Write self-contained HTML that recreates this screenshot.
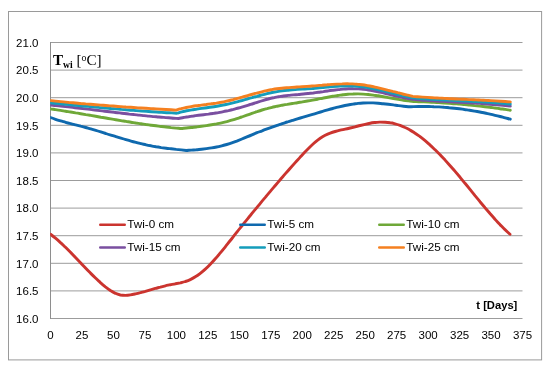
<!DOCTYPE html>
<html><head><meta charset="utf-8"><title>Twi chart</title>
<style>html,body{margin:0;padding:0;background:#fff}svg{display:block}text{font-family:"Liberation Sans",sans-serif;fill:#000}.s{font-family:"Liberation Serif",serif}</style></head><body>
<svg width="550" height="370" viewBox="0 0 550 370">
<rect x="0" y="0" width="550" height="370" fill="#fff"/>
<rect x="8.5" y="11.5" width="533.1" height="348.4" fill="#fff" stroke="#9a9a9a" stroke-width="1"/>
<defs><clipPath id="cp"><rect x="50.2" y="30" width="480" height="300"/></clipPath></defs>
<path d="M50.5 42.5H522.5M50.5 70.1H522.5M50.5 97.7H522.5M50.5 125.3H522.5M50.5 152.9H522.5M50.5 180.5H522.5M50.5 208.1H522.5M50.5 235.7H522.5M50.5 263.3H522.5M50.5 290.9H522.5M50.5 318.5H522.5" stroke="#9c9c9c" stroke-width="1" fill="none"/>
<path d="M50.5 42.0V319.0" stroke="#8e8e8e" stroke-width="1" fill="none"/>
<path clip-path="url(#cp)" d="M50.5 234.2C52.2 235.5 53.8 236.8 55.5 238.2C57.2 239.6 58.8 241.0 60.5 242.6C62.2 244.1 63.8 245.7 65.5 247.3C67.1 248.9 68.8 250.6 70.5 252.3C72.1 254.0 73.8 255.8 75.5 257.5C77.1 259.2 78.8 261.0 80.5 262.7C82.1 264.5 83.8 266.2 85.5 268.0C87.1 269.7 88.8 271.4 90.5 273.1C92.1 274.7 93.8 276.4 95.5 278.0C97.1 279.6 98.8 281.1 100.4 282.6C102.1 284.1 103.8 285.5 105.4 286.8C107.1 288.1 108.8 289.4 110.4 290.5C112.1 291.6 113.8 292.6 115.4 293.3C117.1 294.1 118.8 294.6 120.4 295.0C122.1 295.3 123.8 295.4 125.4 295.4C127.1 295.4 128.7 295.2 130.4 294.9C132.1 294.7 133.7 294.3 135.4 293.9C137.1 293.5 138.7 293.1 140.4 292.7C142.1 292.2 143.7 291.7 145.4 291.3C147.1 290.8 148.7 290.3 150.4 289.8C152.1 289.4 153.7 288.9 155.4 288.4C157.1 288.0 158.7 287.5 160.4 287.1C162.0 286.6 163.7 286.2 165.4 285.8C167.0 285.4 168.7 285.1 170.4 284.7C172.0 284.4 173.7 284.2 175.4 283.8C177.0 283.5 178.7 283.2 180.4 282.9C182.0 282.5 183.7 282.1 185.4 281.5C187.0 281.0 188.7 280.4 190.3 279.6C192.0 278.8 193.7 277.9 195.3 276.8C197.0 275.8 198.7 274.6 200.3 273.3C202.0 272.0 203.7 270.6 205.3 269.1C207.0 267.6 208.7 265.9 210.3 264.2C212.0 262.5 213.7 260.7 215.3 258.8C217.0 256.9 218.7 254.9 220.3 252.9C222.0 250.9 223.6 248.9 225.3 246.8C227.0 244.7 228.6 242.6 230.3 240.5C232.0 238.4 233.6 236.2 235.3 234.1C237.0 232.0 238.6 229.9 240.3 227.9C242.0 225.8 243.6 223.7 245.3 221.6C247.0 219.6 248.6 217.5 250.3 215.5C251.9 213.4 253.6 211.4 255.3 209.4C256.9 207.4 258.6 205.4 260.3 203.3C261.9 201.3 263.6 199.3 265.3 197.4C266.9 195.4 268.6 193.4 270.3 191.4C271.9 189.4 273.6 187.5 275.3 185.5C276.9 183.6 278.6 181.6 280.2 179.7C281.9 177.7 283.6 175.8 285.2 173.9C286.9 172.0 288.6 170.1 290.2 168.2C291.9 166.3 293.6 164.4 295.2 162.6C296.9 160.7 298.6 158.9 300.2 157.1C301.9 155.3 303.6 153.4 305.2 151.7C306.9 150.0 308.6 148.3 310.2 146.7C311.9 145.1 313.5 143.6 315.2 142.2C316.9 140.8 318.5 139.5 320.2 138.3C321.9 137.2 323.5 136.2 325.2 135.3C326.9 134.4 328.5 133.7 330.2 133.1C331.9 132.5 333.5 132.0 335.2 131.5C336.9 131.0 338.5 130.6 340.2 130.2C341.8 129.8 343.5 129.5 345.2 129.1C346.8 128.8 348.5 128.4 350.2 128.0C351.8 127.6 353.5 127.2 355.2 126.8C356.8 126.4 358.5 125.9 360.2 125.5C361.8 125.1 363.5 124.7 365.2 124.3C366.8 123.9 368.5 123.5 370.2 123.2C371.8 122.9 373.5 122.7 375.1 122.5C376.8 122.3 378.5 122.2 380.1 122.1C381.8 122.1 383.5 122.1 385.1 122.2C386.8 122.3 388.5 122.5 390.1 122.8C391.8 123.0 393.5 123.4 395.1 123.8C396.8 124.2 398.5 124.8 400.1 125.4C401.8 126.0 403.4 126.7 405.1 127.5C406.8 128.2 408.4 129.1 410.1 130.1C411.8 131.0 413.4 132.1 415.1 133.2C416.8 134.3 418.4 135.5 420.1 136.7C421.8 138.0 423.4 139.3 425.1 140.7C426.8 142.1 428.4 143.6 430.1 145.1C431.8 146.6 433.4 148.2 435.1 149.8C436.7 151.4 438.4 153.1 440.1 154.8C441.7 156.6 443.4 158.3 445.1 160.1C446.7 161.9 448.4 163.8 450.1 165.7C451.7 167.5 453.4 169.5 455.1 171.4C456.7 173.3 458.4 175.3 460.1 177.3C461.7 179.3 463.4 181.3 465.0 183.3C466.7 185.3 468.4 187.4 470.0 189.4C471.7 191.5 473.4 193.5 475.0 195.6C476.7 197.6 478.4 199.6 480.0 201.7C481.7 203.7 483.4 205.7 485.0 207.7C486.7 209.6 488.4 211.6 490.0 213.5C491.7 215.4 493.4 217.3 495.0 219.2C496.7 221.0 498.3 222.8 500.0 224.6C501.7 226.3 503.3 228.0 505.0 229.6C506.7 231.2 508.3 232.7 510.0 234.3" stroke="#CB342F" stroke-width="2.9" fill="none" stroke-linecap="round" stroke-linejoin="round"/>
<path clip-path="url(#cp)" d="M50.5 117.5C52.2 118.1 53.9 118.7 55.5 119.3C57.2 119.9 58.9 120.4 60.6 120.9C62.2 121.4 63.9 121.8 65.6 122.3C67.3 122.8 68.9 123.2 70.6 123.6C72.3 124.1 74.0 124.5 75.6 124.9C77.3 125.3 79.0 125.7 80.7 126.2C82.4 126.6 84.0 127.0 85.7 127.5C87.4 128.0 89.1 128.4 90.7 128.9C92.4 129.4 94.1 129.9 95.8 130.4C97.4 130.9 99.1 131.4 100.8 131.9C102.5 132.5 104.1 133.0 105.8 133.5C107.5 134.1 109.2 134.6 110.9 135.1C112.5 135.6 114.2 136.2 115.9 136.7C117.6 137.2 119.2 137.7 120.9 138.2C122.6 138.7 124.3 139.2 125.9 139.7C127.6 140.2 129.3 140.7 131.0 141.1C132.7 141.6 134.3 142.0 136.0 142.4C137.7 142.9 139.4 143.3 141.0 143.7C142.7 144.1 144.4 144.4 146.1 144.8C147.7 145.2 149.4 145.5 151.1 145.8C152.8 146.2 154.4 146.5 156.1 146.8C157.8 147.0 159.5 147.3 161.2 147.6C162.8 147.8 164.5 148.0 166.2 148.2C167.9 148.5 169.5 148.6 171.2 148.8C172.9 149.0 174.6 149.2 176.2 149.4C177.9 149.5 179.6 149.7 181.3 149.9C182.9 150.1 184.6 150.3 186.3 150.5C188.0 150.4 189.7 150.2 191.4 150.1C193.0 149.9 194.7 149.8 196.4 149.7C198.1 149.5 199.8 149.4 201.5 149.2C203.1 149.0 204.8 148.8 206.5 148.6C208.2 148.4 209.9 148.2 211.6 147.9C213.2 147.7 214.9 147.4 216.6 147.0C218.3 146.7 220.0 146.3 221.7 145.9C223.3 145.5 225.0 145.0 226.7 144.5C228.4 144.0 230.1 143.5 231.8 142.9C233.4 142.3 235.1 141.7 236.8 141.1C238.5 140.4 240.2 139.7 241.9 139.0C243.5 138.3 245.2 137.6 246.9 136.9C248.6 136.2 250.3 135.5 251.9 134.8C253.6 134.1 255.3 133.4 257.0 132.7C258.7 132.1 260.4 131.4 262.1 130.8C263.7 130.1 265.4 129.5 267.1 128.9C268.8 128.3 270.5 127.7 272.1 127.1C273.8 126.5 275.5 125.9 277.2 125.3C278.9 124.7 280.6 124.2 282.2 123.6C283.9 123.1 285.6 122.5 287.3 122.0C289.0 121.4 290.7 120.9 292.4 120.4C294.0 119.9 295.7 119.4 297.4 118.8C299.1 118.3 300.8 117.8 302.4 117.3C304.1 116.8 305.8 116.3 307.5 115.8C309.2 115.3 310.9 114.8 312.6 114.3C314.2 113.8 315.9 113.3 317.6 112.8C319.3 112.3 321.0 111.8 322.6 111.3C324.3 110.9 326.0 110.4 327.7 109.9C329.4 109.4 331.1 108.9 332.8 108.5C334.4 108.1 336.1 107.6 337.8 107.2C339.5 106.8 341.2 106.4 342.9 106.0C344.5 105.6 346.2 105.3 347.9 105.0C349.6 104.7 351.3 104.4 353.0 104.1C354.6 103.9 356.3 103.6 358.0 103.4C359.7 103.3 361.4 103.1 363.1 103.0C364.7 102.9 366.4 102.9 368.1 102.9C369.8 102.8 371.5 102.9 373.1 102.9C374.8 103.0 376.5 103.1 378.2 103.2C379.9 103.4 381.6 103.5 383.2 103.7C384.9 103.9 386.6 104.1 388.3 104.3C390.0 104.5 391.7 104.7 393.4 104.9C395.0 105.1 396.7 105.4 398.4 105.6C400.1 105.8 401.8 106.0 403.5 106.2C405.1 106.4 406.8 106.6 408.5 106.8C410.2 106.7 411.9 106.7 413.6 106.6C415.3 106.5 417.0 106.5 418.7 106.5C420.4 106.5 422.1 106.4 423.8 106.4C425.5 106.5 427.2 106.5 428.9 106.5C430.6 106.6 432.3 106.6 433.9 106.7C435.6 106.7 437.3 106.8 439.0 106.9C440.7 107.0 442.4 107.1 444.1 107.3C445.8 107.4 447.5 107.5 449.2 107.7C450.9 107.8 452.6 108.0 454.3 108.2C456.0 108.4 457.7 108.6 459.4 108.8C461.1 109.0 462.8 109.2 464.5 109.5C466.2 109.7 467.9 110.0 469.6 110.2C471.3 110.5 473.0 110.8 474.7 111.1C476.4 111.4 478.1 111.7 479.8 112.0C481.5 112.3 483.2 112.7 484.9 113.0C486.5 113.4 488.2 113.7 489.9 114.1C491.6 114.5 493.3 114.9 495.0 115.3C496.7 115.7 498.4 116.1 500.1 116.5C501.8 116.9 503.5 117.4 505.2 117.8C506.9 118.3 508.6 118.7 510.3 119.2" stroke="#0F69AE" stroke-width="2.9" fill="none" stroke-linecap="round" stroke-linejoin="round"/>
<path clip-path="url(#cp)" d="M50.5 108.9C52.2 109.1 53.9 109.4 55.5 109.6C57.2 109.9 58.9 110.2 60.6 110.4C62.2 110.7 63.9 110.9 65.6 111.2C67.3 111.5 68.9 111.7 70.6 112.0C72.3 112.3 74.0 112.6 75.6 112.9C77.3 113.1 79.0 113.4 80.7 113.7C82.3 114.0 84.0 114.3 85.7 114.6C87.4 114.8 89.0 115.1 90.7 115.4C92.4 115.7 94.1 116.0 95.7 116.3C97.4 116.6 99.1 116.9 100.8 117.2C102.4 117.4 104.1 117.7 105.8 118.0C107.5 118.3 109.1 118.6 110.8 118.9C112.5 119.2 114.2 119.5 115.8 119.7C117.5 120.0 119.2 120.3 120.9 120.6C122.6 120.9 124.2 121.1 125.9 121.4C127.6 121.7 129.3 121.9 130.9 122.2C132.6 122.5 134.3 122.7 136.0 123.0C137.6 123.2 139.3 123.5 141.0 123.7C142.7 124.0 144.3 124.2 146.0 124.5C147.7 124.7 149.4 124.9 151.0 125.2C152.7 125.4 154.4 125.6 156.1 125.8C157.7 126.0 159.4 126.3 161.1 126.5C162.8 126.7 164.4 126.9 166.1 127.0C167.8 127.2 169.5 127.4 171.1 127.6C172.8 127.7 174.5 127.9 176.2 128.1C177.8 128.2 179.5 128.4 181.2 128.5C182.9 128.3 184.6 128.2 186.3 128.0C187.9 127.9 189.6 127.7 191.3 127.5C193.0 127.3 194.7 127.2 196.4 127.0C198.0 126.8 199.7 126.6 201.4 126.3C203.1 126.1 204.8 125.9 206.5 125.6C208.1 125.4 209.8 125.1 211.5 124.8C213.2 124.5 214.9 124.2 216.6 123.9C218.2 123.5 219.9 123.2 221.6 122.8C223.3 122.4 225.0 122.0 226.7 121.6C228.4 121.1 230.0 120.7 231.7 120.2C233.4 119.7 235.1 119.2 236.8 118.6C238.5 118.1 240.1 117.5 241.8 117.0C243.5 116.4 245.2 115.8 246.9 115.2C248.6 114.6 250.2 114.0 251.9 113.4C253.6 112.8 255.3 112.2 257.0 111.7C258.7 111.1 260.4 110.5 262.0 110.0C263.7 109.5 265.4 109.0 267.1 108.6C268.8 108.1 270.5 107.7 272.1 107.3C273.8 106.9 275.5 106.6 277.2 106.2C278.9 105.9 280.6 105.6 282.2 105.2C283.9 104.9 285.6 104.6 287.3 104.4C289.0 104.1 290.7 103.8 292.3 103.5C294.0 103.2 295.7 103.0 297.4 102.7C299.1 102.4 300.8 102.2 302.5 101.9C304.1 101.6 305.8 101.3 307.5 101.0C309.2 100.8 310.9 100.5 312.6 100.1C314.2 99.8 315.9 99.5 317.6 99.2C319.3 98.9 321.0 98.5 322.7 98.2C324.3 97.9 326.0 97.5 327.7 97.2C329.4 96.9 331.1 96.6 332.8 96.3C334.4 96.0 336.1 95.8 337.8 95.5C339.5 95.3 341.2 95.0 342.9 94.8C344.6 94.6 346.2 94.4 347.9 94.3C349.6 94.2 351.3 94.0 353.0 94.0C354.7 93.9 356.3 93.9 358.0 93.9C359.7 93.9 361.4 94.0 363.1 94.1C364.8 94.2 366.4 94.3 368.1 94.5C369.8 94.7 371.5 94.9 373.2 95.1C374.9 95.3 376.6 95.6 378.2 95.8C379.9 96.1 381.6 96.4 383.3 96.7C385.0 97.0 386.7 97.3 388.3 97.6C390.0 97.9 391.7 98.2 393.4 98.5C395.1 98.8 396.8 99.1 398.4 99.4C400.1 99.7 401.8 100.0 403.5 100.2C405.2 100.5 406.9 100.7 408.5 100.9C410.2 101.2 411.9 101.3 413.6 101.5C415.3 101.6 417.0 101.6 418.7 101.7C420.4 101.7 422.1 101.8 423.8 101.9C425.5 101.9 427.2 102.0 428.9 102.1C430.6 102.2 432.3 102.3 434.0 102.4C435.7 102.5 437.4 102.5 439.0 102.6C440.7 102.8 442.4 102.9 444.1 103.0C445.8 103.1 447.5 103.2 449.2 103.3C450.9 103.4 452.6 103.6 454.3 103.7C456.0 103.8 457.7 104.0 459.4 104.1C461.1 104.3 462.8 104.4 464.5 104.6C466.2 104.7 467.9 104.9 469.6 105.0C471.3 105.2 473.0 105.4 474.7 105.6C476.4 105.7 478.1 105.9 479.8 106.1C481.5 106.3 483.2 106.5 484.9 106.7C486.5 106.9 488.2 107.1 489.9 107.3C491.6 107.5 493.3 107.8 495.0 108.0C496.7 108.2 498.4 108.4 500.1 108.7C501.8 108.9 503.5 109.2 505.2 109.4C506.9 109.7 508.6 110.0 510.3 110.2" stroke="#6FA838" stroke-width="2.9" fill="none" stroke-linecap="round" stroke-linejoin="round"/>
<path clip-path="url(#cp)" d="M50.5 105.0C52.1 105.2 53.8 105.3 55.4 105.5C57.1 105.7 58.7 105.9 60.4 106.0C62.0 106.2 63.6 106.4 65.3 106.6C66.9 106.8 68.6 107.0 70.2 107.1C71.8 107.3 73.5 107.5 75.1 107.7C76.8 107.9 78.4 108.1 80.1 108.3C81.7 108.5 83.3 108.7 85.0 108.9C86.6 109.1 88.3 109.3 89.9 109.4C91.6 109.6 93.2 109.8 94.8 110.0C96.5 110.2 98.1 110.4 99.8 110.6C101.4 110.8 103.1 111.0 104.7 111.2C106.3 111.4 108.0 111.6 109.6 111.8C111.3 112.0 112.9 112.2 114.5 112.4C116.2 112.6 117.8 112.8 119.5 112.9C121.1 113.1 122.8 113.3 124.4 113.5C126.0 113.7 127.7 113.9 129.3 114.1C131.0 114.2 132.6 114.4 134.3 114.6C135.9 114.8 137.5 114.9 139.2 115.1C140.8 115.3 142.5 115.4 144.1 115.6C145.8 115.8 147.4 115.9 149.0 116.1C150.7 116.3 152.3 116.4 154.0 116.6C155.6 116.7 157.2 116.9 158.9 117.0C160.5 117.1 162.2 117.3 163.8 117.4C165.5 117.6 167.1 117.7 168.7 117.8C170.4 117.9 172.0 118.1 173.7 118.2C175.3 118.3 177.0 118.4 178.6 118.5C180.3 118.2 181.9 117.8 183.6 117.5C185.3 117.2 186.9 116.9 188.6 116.7C190.2 116.4 191.9 116.2 193.6 116.0C195.2 115.7 196.9 115.5 198.6 115.3C200.2 115.1 201.9 114.9 203.6 114.7C205.2 114.5 206.9 114.3 208.5 114.1C210.2 113.8 211.9 113.6 213.5 113.4C215.2 113.1 216.9 112.9 218.5 112.6C220.2 112.3 221.9 112.0 223.5 111.6C225.2 111.3 226.9 110.9 228.5 110.6C230.2 110.2 231.8 109.8 233.5 109.4C235.2 108.9 236.8 108.5 238.5 108.0C240.2 107.6 241.8 107.1 243.5 106.6C245.2 106.1 246.8 105.6 248.5 105.1C250.1 104.6 251.8 104.0 253.5 103.5C255.1 103.0 256.8 102.4 258.5 101.9C260.1 101.4 261.8 100.9 263.5 100.4C265.1 99.9 266.8 99.4 268.4 99.0C270.1 98.5 271.8 98.1 273.4 97.8C275.1 97.4 276.8 97.1 278.4 96.8C280.1 96.5 281.8 96.3 283.4 96.0C285.1 95.8 286.7 95.6 288.4 95.4C290.1 95.2 291.7 95.1 293.4 94.9C295.1 94.8 296.7 94.6 298.4 94.5C300.1 94.3 301.7 94.2 303.4 94.0C305.1 93.9 306.7 93.7 308.4 93.5C310.0 93.4 311.7 93.2 313.4 93.0C315.0 92.7 316.7 92.5 318.4 92.3C320.0 92.1 321.7 91.8 323.4 91.6C325.0 91.3 326.7 91.1 328.3 90.9C330.0 90.6 331.7 90.4 333.3 90.2C335.0 90.0 336.7 89.8 338.3 89.6C340.0 89.4 341.7 89.3 343.3 89.1C345.0 89.0 346.6 88.9 348.3 88.8C350.0 88.8 351.6 88.7 353.3 88.8C355.0 88.8 356.6 88.8 358.3 88.9C360.0 89.0 361.6 89.1 363.3 89.3C364.9 89.5 366.6 89.7 368.3 90.0C369.9 90.2 371.6 90.5 373.3 90.8C374.9 91.1 376.6 91.5 378.3 91.8C379.9 92.2 381.6 92.5 383.3 92.9C384.9 93.3 386.6 93.7 388.2 94.1C389.9 94.5 391.6 94.9 393.2 95.3C394.9 95.7 396.6 96.1 398.2 96.4C399.9 96.8 401.6 97.2 403.2 97.5C404.9 97.9 406.5 98.2 408.2 98.5C409.9 98.9 411.5 99.1 413.2 99.4C414.9 99.5 416.6 99.7 418.3 99.8C420.0 99.9 421.7 100.1 423.4 100.2C425.1 100.3 426.8 100.4 428.5 100.5C430.2 100.6 431.9 100.7 433.6 100.9C435.3 101.0 437.0 101.1 438.8 101.2C440.5 101.2 442.2 101.3 443.9 101.4C445.6 101.5 447.3 101.6 449.0 101.7C450.7 101.8 452.4 101.9 454.1 102.0C455.8 102.1 457.5 102.2 459.2 102.3C460.9 102.3 462.6 102.4 464.3 102.5C466.0 102.6 467.7 102.7 469.4 102.8C471.1 102.9 472.8 103.0 474.5 103.1C476.2 103.2 477.9 103.3 479.6 103.4C481.3 103.6 483.0 103.7 484.7 103.8C486.5 103.9 488.2 104.0 489.9 104.2C491.6 104.3 493.3 104.4 495.0 104.6C496.7 104.7 498.4 104.9 500.1 105.0C501.8 105.2 503.5 105.4 505.2 105.5C506.9 105.7 508.6 105.9 510.3 106.1" stroke="#7A4FA0" stroke-width="2.9" fill="none" stroke-linecap="round" stroke-linejoin="round"/>
<path clip-path="url(#cp)" d="M50.5 102.8C52.2 103.0 53.9 103.1 55.5 103.3C57.2 103.4 58.9 103.6 60.6 103.8C62.3 103.9 64.0 104.1 65.6 104.2C67.3 104.4 69.0 104.6 70.7 104.7C72.4 104.9 74.1 105.0 75.7 105.2C77.4 105.4 79.1 105.5 80.8 105.7C82.5 105.8 84.2 106.0 85.8 106.2C87.5 106.3 89.2 106.5 90.9 106.6C92.6 106.8 94.2 107.0 95.9 107.1C97.6 107.3 99.3 107.4 101.0 107.6C102.7 107.7 104.3 107.9 106.0 108.0C107.7 108.2 109.4 108.3 111.1 108.5C112.8 108.6 114.4 108.8 116.1 108.9C117.8 109.1 119.5 109.2 121.2 109.4C122.9 109.5 124.5 109.6 126.2 109.8C127.9 109.9 129.6 110.1 131.3 110.2C133.0 110.3 134.6 110.5 136.3 110.6C138.0 110.7 139.7 110.8 141.4 111.0C143.0 111.1 144.7 111.2 146.4 111.3C148.1 111.5 149.8 111.6 151.5 111.7C153.1 111.8 154.8 111.9 156.5 112.0C158.2 112.1 159.9 112.3 161.6 112.4C163.2 112.5 164.9 112.6 166.6 112.7C168.3 112.8 170.0 112.8 171.7 112.9C173.3 113.0 175.0 113.1 176.7 113.2C178.4 112.8 180.0 112.3 181.7 111.9C183.4 111.5 185.1 111.1 186.7 110.8C188.4 110.5 190.1 110.2 191.8 109.9C193.4 109.6 195.1 109.4 196.8 109.1C198.5 108.9 200.1 108.7 201.8 108.4C203.5 108.2 205.2 108.0 206.8 107.7C208.5 107.5 210.2 107.3 211.9 107.0C213.5 106.8 215.2 106.5 216.9 106.2C218.6 105.9 220.2 105.6 221.9 105.3C223.6 105.0 225.3 104.6 226.9 104.3C228.6 103.9 230.3 103.5 232.0 103.1C233.6 102.7 235.3 102.2 237.0 101.8C238.7 101.4 240.3 100.9 242.0 100.5C243.7 100.0 245.4 99.5 247.0 99.1C248.7 98.6 250.4 98.1 252.1 97.7C253.7 97.2 255.4 96.7 257.1 96.3C258.7 95.8 260.4 95.4 262.1 94.9C263.8 94.5 265.4 94.1 267.1 93.7C268.8 93.3 270.5 92.9 272.1 92.5C273.8 92.2 275.5 91.9 277.2 91.6C278.8 91.3 280.5 91.0 282.2 90.8C283.9 90.6 285.5 90.4 287.2 90.2C288.9 90.1 290.6 89.9 292.2 89.8C293.9 89.7 295.6 89.6 297.3 89.4C298.9 89.3 300.6 89.2 302.3 89.1C304.0 89.0 305.6 88.9 307.3 88.8C309.0 88.7 310.7 88.6 312.3 88.5C314.0 88.3 315.7 88.2 317.4 88.0C319.0 87.9 320.7 87.7 322.4 87.5C324.1 87.4 325.7 87.2 327.4 87.1C329.1 86.9 330.8 86.8 332.4 86.6C334.1 86.5 335.8 86.4 337.4 86.3C339.1 86.2 340.8 86.1 342.5 86.0C344.1 86.0 345.8 85.9 347.5 85.9C349.2 85.9 350.8 85.9 352.5 86.0C354.2 86.1 355.9 86.1 357.5 86.3C359.2 86.4 360.9 86.6 362.6 86.8C364.2 87.0 365.9 87.3 367.6 87.5C369.3 87.8 370.9 88.1 372.6 88.5C374.3 88.8 376.0 89.2 377.6 89.5C379.3 89.9 381.0 90.3 382.7 90.7C384.3 91.1 386.0 91.5 387.7 91.9C389.4 92.3 391.0 92.8 392.7 93.2C394.4 93.6 396.1 94.0 397.7 94.5C399.4 94.9 401.1 95.3 402.8 95.7C404.4 96.1 406.1 96.5 407.8 96.8C409.5 97.2 411.1 97.5 412.8 97.9C414.4 98.0 416.1 98.2 417.7 98.3C419.3 98.4 420.9 98.5 422.6 98.7C424.2 98.8 425.8 98.9 427.4 99.0C429.1 99.1 430.7 99.2 432.3 99.3C433.9 99.4 435.6 99.5 437.2 99.6C438.8 99.7 440.4 99.8 442.1 99.9C443.7 100.0 445.3 100.0 446.9 100.1C448.6 100.2 450.2 100.3 451.8 100.4C453.4 100.5 455.1 100.5 456.7 100.6C458.3 100.7 459.9 100.8 461.6 100.8C463.2 100.9 464.8 101.0 466.4 101.1C468.1 101.2 469.7 101.3 471.3 101.3C472.9 101.4 474.6 101.5 476.2 101.6C477.8 101.7 479.4 101.8 481.1 101.9C482.7 101.9 484.3 102.0 485.9 102.1C487.6 102.2 489.2 102.3 490.8 102.4C492.4 102.6 494.1 102.7 495.7 102.8C497.3 102.9 498.9 103.0 500.6 103.1C502.2 103.3 503.8 103.4 505.4 103.5C507.1 103.7 508.7 103.8 510.3 104.0" stroke="#149DBB" stroke-width="2.9" fill="none" stroke-linecap="round" stroke-linejoin="round"/>
<path clip-path="url(#cp)" d="M50.5 100.6C52.2 100.8 53.8 101.0 55.5 101.1C57.2 101.3 58.9 101.5 60.5 101.6C62.2 101.8 63.9 102.0 65.6 102.1C67.2 102.3 68.9 102.4 70.6 102.6C72.3 102.7 73.9 102.9 75.6 103.0C77.3 103.2 79.0 103.3 80.6 103.5C82.3 103.6 84.0 103.7 85.7 103.9C87.3 104.0 89.0 104.2 90.7 104.3C92.4 104.4 94.0 104.6 95.7 104.7C97.4 104.8 99.1 105.0 100.7 105.1C102.4 105.2 104.1 105.4 105.8 105.5C107.4 105.6 109.1 105.8 110.8 105.9C112.5 106.0 114.1 106.1 115.8 106.2C117.5 106.4 119.2 106.5 120.8 106.6C122.5 106.7 124.2 106.8 125.9 107.0C127.5 107.1 129.2 107.2 130.9 107.3C132.6 107.4 134.2 107.5 135.9 107.6C137.6 107.8 139.3 107.9 140.9 108.0C142.6 108.1 144.3 108.2 146.0 108.3C147.6 108.4 149.3 108.5 151.0 108.6C152.7 108.7 154.3 108.8 156.0 108.9C157.7 109.0 159.4 109.1 161.0 109.2C162.7 109.3 164.4 109.4 166.1 109.5C167.7 109.6 169.4 109.7 171.1 109.8C172.8 109.9 174.4 110.0 176.1 110.1C177.8 109.6 179.5 109.1 181.1 108.7C182.8 108.2 184.5 107.9 186.2 107.5C187.8 107.2 189.5 106.9 191.2 106.6C192.9 106.3 194.6 106.0 196.2 105.8C197.9 105.6 199.6 105.3 201.3 105.1C202.9 104.9 204.6 104.7 206.3 104.5C208.0 104.2 209.7 104.0 211.3 103.8C213.0 103.6 214.7 103.3 216.4 103.1C218.1 102.8 219.7 102.5 221.4 102.2C223.1 101.9 224.8 101.5 226.4 101.1C228.1 100.8 229.8 100.4 231.5 100.0C233.2 99.6 234.8 99.1 236.5 98.7C238.2 98.2 239.9 97.8 241.5 97.3C243.2 96.9 244.9 96.4 246.6 95.9C248.3 95.4 249.9 95.0 251.6 94.5C253.3 94.0 255.0 93.5 256.6 93.1C258.3 92.6 260.0 92.2 261.7 91.8C263.4 91.4 265.0 91.0 266.7 90.6C268.4 90.2 270.1 89.9 271.7 89.6C273.4 89.3 275.1 89.0 276.8 88.8C278.5 88.6 280.1 88.4 281.8 88.2C283.5 88.0 285.2 87.9 286.8 87.8C288.5 87.6 290.2 87.5 291.9 87.4C293.6 87.3 295.2 87.2 296.9 87.0C298.6 86.9 300.3 86.8 302.0 86.7C303.6 86.6 305.3 86.5 307.0 86.4C308.7 86.3 310.3 86.2 312.0 86.0C313.7 85.9 315.4 85.8 317.1 85.6C318.7 85.5 320.4 85.3 322.1 85.2C323.8 85.0 325.4 84.9 327.1 84.8C328.8 84.6 330.5 84.5 332.2 84.4C333.8 84.3 335.5 84.2 337.2 84.1C338.9 84.0 340.5 83.9 342.2 83.9C343.9 83.8 345.6 83.8 347.3 83.8C348.9 83.8 350.6 83.9 352.3 83.9C354.0 84.0 355.6 84.1 357.3 84.3C359.0 84.4 360.7 84.6 362.4 84.8C364.0 85.0 365.7 85.3 367.4 85.6C369.1 85.9 370.7 86.2 372.4 86.5C374.1 86.9 375.8 87.2 377.5 87.6C379.1 88.0 380.8 88.4 382.5 88.8C384.2 89.2 385.9 89.6 387.5 90.1C389.2 90.5 390.9 90.9 392.6 91.4C394.2 91.8 395.9 92.2 397.6 92.7C399.3 93.1 401.0 93.6 402.6 94.0C404.3 94.4 406.0 94.8 407.7 95.2C409.3 95.6 411.0 96.0 412.7 96.4C414.3 96.5 416.0 96.7 417.6 96.8C419.2 96.9 420.8 97.0 422.5 97.1C424.1 97.2 425.7 97.3 427.3 97.4C429.0 97.5 430.6 97.6 432.2 97.7C433.8 97.8 435.5 97.9 437.1 98.0C438.7 98.1 440.4 98.2 442.0 98.3C443.6 98.4 445.2 98.4 446.9 98.5C448.5 98.6 450.1 98.7 451.7 98.7C453.4 98.8 455.0 98.9 456.6 99.0C458.2 99.1 459.9 99.1 461.5 99.2C463.1 99.3 464.8 99.3 466.4 99.4C468.0 99.5 469.6 99.6 471.3 99.6C472.9 99.7 474.5 99.8 476.1 99.9C477.8 100.0 479.4 100.0 481.0 100.1C482.6 100.2 484.3 100.3 485.9 100.4C487.5 100.5 489.2 100.5 490.8 100.6C492.4 100.7 494.0 100.8 495.7 100.9C497.3 101.0 498.9 101.1 500.5 101.2C502.2 101.3 503.8 101.4 505.4 101.5C507.0 101.7 508.7 101.8 510.3 101.9" stroke="#F58020" stroke-width="2.9" fill="none" stroke-linecap="round" stroke-linejoin="round"/>
<text x="38.5" y="46.7" font-size="11.5" text-anchor="end">21.0</text>
<text x="38.5" y="74.3" font-size="11.5" text-anchor="end">20.5</text>
<text x="38.5" y="101.9" font-size="11.5" text-anchor="end">20.0</text>
<text x="38.5" y="129.5" font-size="11.5" text-anchor="end">19.5</text>
<text x="38.5" y="157.1" font-size="11.5" text-anchor="end">19.0</text>
<text x="38.5" y="184.7" font-size="11.5" text-anchor="end">18.5</text>
<text x="38.5" y="212.3" font-size="11.5" text-anchor="end">18.0</text>
<text x="38.5" y="239.9" font-size="11.5" text-anchor="end">17.5</text>
<text x="38.5" y="267.5" font-size="11.5" text-anchor="end">17.0</text>
<text x="38.5" y="295.1" font-size="11.5" text-anchor="end">16.5</text>
<text x="38.5" y="322.7" font-size="11.5" text-anchor="end">16.0</text>
<text x="50.5" y="339" font-size="11.5" text-anchor="middle">0</text>
<text x="82.0" y="339" font-size="11.5" text-anchor="middle">25</text>
<text x="113.4" y="339" font-size="11.5" text-anchor="middle">50</text>
<text x="144.9" y="339" font-size="11.5" text-anchor="middle">75</text>
<text x="176.4" y="339" font-size="11.5" text-anchor="middle">100</text>
<text x="207.8" y="339" font-size="11.5" text-anchor="middle">125</text>
<text x="239.3" y="339" font-size="11.5" text-anchor="middle">150</text>
<text x="270.8" y="339" font-size="11.5" text-anchor="middle">175</text>
<text x="302.2" y="339" font-size="11.5" text-anchor="middle">200</text>
<text x="333.7" y="339" font-size="11.5" text-anchor="middle">225</text>
<text x="365.2" y="339" font-size="11.5" text-anchor="middle">250</text>
<text x="396.6" y="339" font-size="11.5" text-anchor="middle">275</text>
<text x="428.1" y="339" font-size="11.5" text-anchor="middle">300</text>
<text x="459.6" y="339" font-size="11.5" text-anchor="middle">325</text>
<text x="491.0" y="339" font-size="11.5" text-anchor="middle">350</text>
<text x="522.5" y="339" font-size="11.5" text-anchor="middle">375</text>
<path d="M100.2 224.8H124.8" stroke="#CB342F" stroke-width="2.4" stroke-linecap="round" fill="none"/>
<text x="127.3" y="228.3" font-size="11.7">Twi-0 cm</text>
<path d="M240.2 224.8H264.8" stroke="#0F69AE" stroke-width="2.4" stroke-linecap="round" fill="none"/>
<text x="267.3" y="228.3" font-size="11.7">Twi-5 cm</text>
<path d="M379.2 224.8H403.8" stroke="#6FA838" stroke-width="2.4" stroke-linecap="round" fill="none"/>
<text x="406.3" y="228.3" font-size="11.7">Twi-10 cm</text>
<path d="M100.2 247.5H124.8" stroke="#7A4FA0" stroke-width="2.4" stroke-linecap="round" fill="none"/>
<text x="127.3" y="251.0" font-size="11.7">Twi-15 cm</text>
<path d="M240.2 247.5H264.8" stroke="#149DBB" stroke-width="2.4" stroke-linecap="round" fill="none"/>
<text x="267.3" y="251.0" font-size="11.7">Twi-20 cm</text>
<path d="M379.2 247.5H403.8" stroke="#F58020" stroke-width="2.4" stroke-linecap="round" fill="none"/>
<text x="406.3" y="251.0" font-size="11.7">Twi-25 cm</text>
<text class="s" x="53.0" y="65.4" font-size="15.1"><tspan font-weight="bold">T</tspan><tspan font-weight="bold" font-size="9.6" dy="3">wi</tspan><tspan dy="-3"> [</tspan><tspan font-size="9.8" dy="-4">o</tspan><tspan dy="4">C]</tspan></text>
<text x="476.3" y="308.8" font-size="11.2" font-weight="bold">t [Days]</text>
</svg></body></html>
